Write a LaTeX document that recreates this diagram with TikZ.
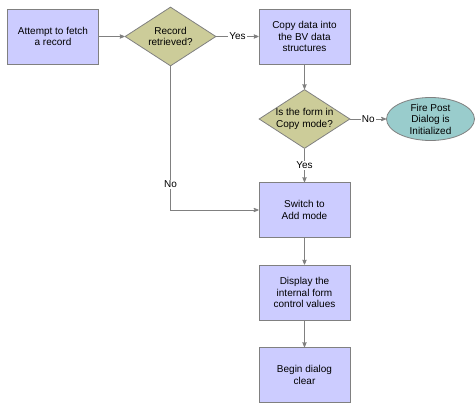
\documentclass[tikz,border=0pt]{standalone}
\usepackage{fontspec}
\setmainfont{Liberation Sans}
\usetikzlibrary{arrows,shapes.geometric}

\definecolor{boxblue}{HTML}{CCCCFF}
\definecolor{decolive}{HTML}{CCCC99}
\definecolor{endteal}{HTML}{99CCCC}
\definecolor{linegray}{HTML}{808080}

\begin{document}
\begin{tikzpicture}[->,>=stealth',node distance=82.5pt,line width=0.8pt,
                    font=\fontsize{10}{11.5}\selectfont]
  \tikzstyle{proc}=[rectangle,fill=boxblue,draw=linegray,align=center,
                    minimum width=91pt,minimum height=55pt,inner sep=0pt]
  \tikzstyle{dec}=[diamond,fill=decolive,draw=linegray,align=center,aspect=1.54,
                   minimum width=91pt,minimum height=59pt,inner sep=0pt]
  \tikzstyle{term}=[ellipse,fill=endteal,draw=linegray,align=center,
                    minimum width=88pt,minimum height=43pt,inner xsep=0pt,inner ysep=-3pt]
  \tikzstyle{lbl}=[fill=white,text=black,inner sep=1pt,font=\fontsize{10}{11.5}\selectfont]
  \tikzstyle{every edge}=[draw=linegray]

  \useasboundingbox (0,0) rectangle (476pt,-409pt);

  \node[proc] (fetch) at (53pt,-36.5pt)                    {Attempt to fetch\\a record};
  \node[dec]  (found) [right of=fetch,node distance=117.5pt] {Record\\retrieved?};
  \node[proc] (copy)  [right of=found,node distance=134pt]   {Copy data into\\the BV data\\structures};
  \node[dec]  (mode)  [below of=copy]                        {Is the form in\\Copy mode?};
  \node[term] (post)  [right of=mode,node distance=126pt]    {Fire Post\\Dialog is\\Initialized};
  \node[proc] (add)   [below of=mode,node distance=91pt]     {Switch to\\Add mode};
  \node[proc] (show)  [below of=add]                         {Display the\\internal form\\control values};
  \node[proc] (clear) [below of=show]                        {Begin dialog\\clear};

  \path (fetch) edge                  (found)
        (found) edge node[lbl] {Yes}  (copy)
        (copy)  edge                  (mode)
        (mode)  edge node[lbl] {No}   (post)
                edge node[lbl] {Yes}  (add)
        (add)   edge                  (show)
        (show)  edge                  (clear);
  \draw[linegray] (found) |- node[lbl,pos=0.41] {No} (add);
\end{tikzpicture}
\end{document}
